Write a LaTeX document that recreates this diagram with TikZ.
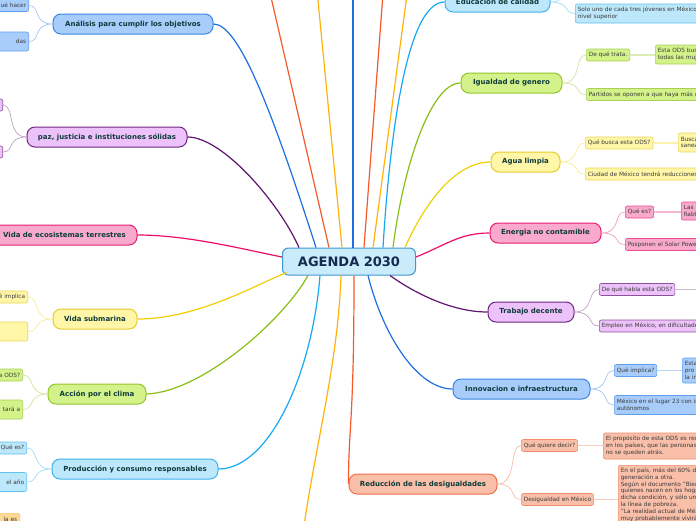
\documentclass[tikz,border=0pt]{standalone}
\usepackage{fontspec}
\setmainfont{DejaVu Sans}
\usetikzlibrary{calc}
\definecolor{HubFill}{HTML}{C9EBFA}
\definecolor{HubEdge}{HTML}{3F97D4}
\definecolor{HubText}{HTML}{142A4E}
\definecolor{TopicText}{HTML}{0E3B3B}
\definecolor{DetailText}{HTML}{3A3A3A}
\definecolor{BlueLine}{HTML}{1F6FE0}
\definecolor{BlueEdge}{HTML}{3A86E8}
\definecolor{BlueFill}{HTML}{A8CDFA}
\definecolor{PurpleLine}{HTML}{5E1470}
\definecolor{PurpleEdge}{HTML}{6E2682}
\definecolor{PurpleFill}{HTML}{EDC2FA}
\definecolor{MagentaLine}{HTML}{EE0D6B}
\definecolor{MagentaEdge}{HTML}{E61E73}
\definecolor{MagentaFill}{HTML}{F9AACC}
\definecolor{YellowLine}{HTML}{F0D000}
\definecolor{YellowEdge}{HTML}{E6CC2E}
\definecolor{YellowFill}{HTML}{FFF6A8}
\definecolor{GreenLine}{HTML}{8BBE14}
\definecolor{GreenEdge}{HTML}{94C42A}
\definecolor{GreenFill}{HTML}{D4F28A}
\definecolor{CyanLine}{HTML}{16A9F2}
\definecolor{CyanEdge}{HTML}{3BB3EE}
\definecolor{CyanFill}{HTML}{BDE7FB}
\definecolor{OrangeLine}{HTML}{F45A2A}
\definecolor{OrangeEdge}{HTML}{F0704A}
\definecolor{OrangeFill}{HTML}{F9BFA9}
\definecolor{AmberLine}{HTML}{FFB20A}
\definecolor{AmberEdge}{HTML}{F2BA45}
\definecolor{AmberFill}{HTML}{FDD995}
\tikzset{
  hub/.style={draw=HubEdge,fill=HubFill,line width=1pt,rounded corners=6pt,
    minimum width=133pt,minimum height=27pt,
    font=\fontsize{13}{15}\selectfont\bfseries,text=HubText},
  topic/.style={draw=#1Edge,fill=#1Fill,line width=1pt,rounded corners=8pt,
    minimum height=20pt,inner sep=2pt,
    font=\fontsize{7}{8}\selectfont\bfseries,text=TopicText},
  detail/.style={draw=#1Edge!80,fill=#1Fill,line width=0.6pt,rounded corners=2pt,
    minimum height=12pt,inner sep=2.5pt,align=left,
    font=\fontsize{5.8}{6.8}\selectfont,text=DetailText},
  cutright/.style={text width=#1,align=left},
  cutleft/.style={text width=#1,align=right},
  branch/.style={line width=1.2pt,draw=#1Line},
  twig/.style={line width=0.6pt,draw=#1Line!45},
  stem/.style={line width=1.2pt,draw=#1Line!30}
}
\begin{document}
\begin{tikzpicture}[x=1pt,y=-1pt]
  \useasboundingbox (0,0) rectangle (696,520);
  \clip (0,0) rectangle (696,520);
  \fill[white] (0,0) rectangle (696,520);

  % centre
  \node[hub] (c) at (349,261.5) {AGENDA 2030};

  % topics, left
  \node[topic=Blue,minimum width=160pt] (ana) at (133,24) {Análisis para cumplir los objetivos};
  \node[topic=Purple,minimum width=160pt] (paz) at (107,137) {paz, justicia e instituciones sólidas};
  \node[topic=Magenta,minimum width=145pt] (ter) at (64.5,235) {Vida de ecosistemas terrestres};
  \node[topic=Yellow,minimum width=84pt] (sub) at (95,319) {Vida submarina};
  \node[topic=Green,minimum width=98pt] (cli) at (97,394) {Acción por el clima};
  \node[topic=Cyan,minimum width=166pt] (pro) at (135,469) {Producción y consumo responsables};

  % topics, right
  \node[topic=Cyan,minimum width=105pt] (edu) at (497.5,2) {Educación de calidad};
  \node[topic=Green,minimum width=101pt] (igu) at (511.5,83) {Igualdad de genero};
  \node[topic=Yellow,minimum width=69pt] (agu) at (525.5,162) {Agua limpia};
  \node[topic=Magenta,minimum width=111pt] (ene) at (545.5,233) {Energia no contamible};
  \node[topic=Purple,minimum width=86pt] (tra) at (531,312) {Trabajo decente};
  \node[topic=Blue,minimum width=137pt] (inn) at (521.5,389) {Innovacion e infraestructura};
  \node[topic=Orange,minimum width=148pt] (red) at (423,484) {Reducción de las desigualdades};

  % details, left
  \node[detail=Blue,cutleft=60pt,anchor=east] (ana1) at (29,5.5) {qué hacer};
  \node[detail=Blue,cutleft=60pt,anchor=east,minimum height=19pt] (ana2) at (29,41.5) {das};
  \node[detail=Purple,anchor=east,minimum width=30pt] (paz1) at (3,105) {};
  \node[detail=Purple,anchor=east,minimum width=30pt] (paz2) at (3,152) {};
  \node[detail=Yellow,cutleft=60pt,anchor=east] (sub1) at (28,297) {é implica};
  \node[detail=Yellow,cutleft=60pt,anchor=east,minimum height=19pt] (sub2) at (28,331.5) {};
  \node[detail=Green,cutleft=60pt,anchor=east] (cli1) at (23,375) {a ODS?};
  \node[detail=Green,cutleft=60pt,anchor=east,minimum height=19pt] (cli2) at (23,409.5) {tará a};
  \node[detail=Cyan,cutleft=60pt,anchor=east] (pro1) at (27,448) {Qué es?};
  \node[detail=Cyan,cutleft=60pt,anchor=east,minimum height=19pt] (pro2) at (27,482) {el año};
  \node[detail=Amber,cutleft=50pt,anchor=north east] (amb1) at (20,513) {la es};

  % details, right
  \node[detail=Cyan,cutright=160pt,anchor=west,minimum height=19pt] (edu1) at (575,13.5)
    {Solo uno de cada tres jóvenes en México s\\nivel superior};
  \node[detail=Green,anchor=west] (igu1) at (586,55) {De qué trata.};
  \node[detail=Green,cutright=80pt,anchor=west,minimum height=19pt] (igu1a) at (655,54.5)
    {Esta ODS bus\\todas las muj};
  \node[detail=Green,cutright=160pt,anchor=west] (igu2) at (586,94.5) {Partidos se oponen a que haya más ca};
  \node[detail=Yellow,anchor=west] (agu1) at (585,143) {Qué busca esta ODS?};
  \node[detail=Yellow,cutright=60pt,anchor=west,minimum height=19pt] (agu1a) at (678,142.5) {Busca\\sanea};
  \node[detail=Yellow,cutright=160pt,anchor=west] (agu2) at (585,174) {Ciudad de México tendrá reducciones d};
  \node[detail=Magenta,anchor=west] (ene1) at (625,212) {Qué es?};
  \node[detail=Magenta,cutright=60pt,anchor=west,minimum height=18pt] (ene1a) at (681,211) {Las\\fiabl};
  \node[detail=Magenta,cutright=120pt,anchor=west] (ene2) at (625,244.5) {Posponen el Solar Powe};
  \node[detail=Purple,anchor=west] (tra1) at (599,289.5) {De qué habla esta ODS?};
  \node[detail=Purple,cutright=140pt,anchor=west] (tra2) at (599,326) {Empleo en México, en dificultades};
  \node[detail=Blue,anchor=west] (inn1) at (614,370.5) {Qué implica?};
  \node[detail=Blue,cutright=60pt,anchor=west,minimum height=25pt] (inn1a) at (682,370.5) {Esta\\pro\\la in};
  \node[detail=Blue,cutright=140pt,anchor=west,minimum height=19pt] (inn2) at (614,405)
    {México en el lugar 23 con in\\autónomos};
  \node[detail=Orange,anchor=west] (red1) at (521,445.5) {Qué quiere decir?};
  \node[detail=Orange,cutright=140pt,anchor=west,minimum height=26pt] (red1a) at (603,446)
    {El propósito de esta ODS es  red\\en los países, que las personas s\\no se queden atrás.};
  \node[detail=Orange,anchor=west] (red2) at (521,499.5) {Desigualdad en México};
  \node[detail=Orange,cutright=140pt,anchor=north west] (red2a) at (618,465)
    {En el país, más del 60\% de\\generación a otra.\\Según el documento "Biene\\
     quienes nacen en los hoga\\dicha condición, y sólo una\\la línea de pobreza.\\
     "La realidad actual de Méxi\\muy probablemente vivirá};

  % ends outside the frame
  \coordinate (o1) at (267,-20);
  \coordinate (a1) at (316,-20);
  \coordinate (b1) at (353,-20);
  \coordinate (o2) at (384,-20);
  \coordinate (a2) at (409,-20);
  \coordinate (a3) at (302,540);
  \coordinate (edu0) at (575,-20);
  \coordinate (tra1a) at (720,289.5);

  % branches from the centre
  \draw[branch=Blue] ($(c.north)+(-33,0)$) .. controls +(-45,-140) and +(25,0) .. (ana.east);
  \draw[branch=Purple] ($(c.north)+(-50,0)$) .. controls +(-20,-45) and +(35,0) .. (paz.east);
  \draw[branch=Magenta] ($(c.west)+(0,-4.5)$) .. controls +(-40,-8) and +(50,0) .. (ter.east);
  \draw[branch=Yellow] ($(c.south west)+(4.5,-3)$) .. controls +(-30,12) and +(60,0) .. (sub.east);
  \draw[branch=Green] ($(c.south)+(-41,0)$) .. controls +(-25,45) and +(55,-2) .. (cli.east);
  \draw[branch=Cyan] ($(c.south)+(-29,0)$) .. controls +(-8,100) and +(50,0) .. (pro.east);
  \draw[branch=Amber] ($(c.south)+(-8,0)$) .. controls +(-3,90) and +(12,-90) .. (a3);
  \draw[branch=Orange] ($(c.south)+(5,0)$) .. controls +(0,150) and +(0,-60) .. (red.west);
  \draw[branch=Blue] ($(c.south)+(19,0)$) .. controls +(15,60) and +(-35,0) .. (inn.west);
  \draw[branch=Purple] ($(c.south)+(41,0)$) .. controls +(25,18) and +(-35,0) .. (tra.west);
  \draw[branch=Magenta] ($(c.east)+(0,-4.5)$) .. controls +(30,-12) and +(-30,0) .. (ene.west);
  \draw[branch=Yellow] ($(c.north)+(56,0)$) .. controls +(20,-45) and +(-35,0) .. (agu.west);
  \draw[branch=Green] ($(c.north)+(44,0)$) .. controls +(10,-80) and +(-30,0) .. (igu.west);
  \draw[branch=Cyan] ($(c.north)+(34,0)$) .. controls +(8,-130) and +(-35,0) .. (edu.west);
  \draw[branch=Orange] ($(c.north)+(-20,0)$) -- (o1);
  \draw[branch=Amber] ($(c.north)+(-7,0)$) -- (a1);
  \draw[branch=Blue] ($(c.north)+(4,0)$) -- (b1);
  \draw[branch=Orange] ($(c.north)+(15,0)$) -- (o2);
  \draw[branch=Amber] ($(c.north)+(24,0)$) -- (a2);

  % twigs, left
  \draw[twig=Blue] (ana.west) .. controls +(-20,0) and +(12,0) .. (ana1.east);
  \draw[twig=Blue] (ana.west) .. controls +(-20,0) and +(12,0) .. (ana2.east);
  \draw[twig=Purple] (paz.west) .. controls +(-20,0) and +(12,0) .. (paz1.east);
  \draw[twig=Purple] (paz.west) .. controls +(-20,0) and +(12,0) .. (paz2.east);
  \draw[twig=Yellow] (sub.west) .. controls +(-20,0) and +(12,0) .. (sub1.east);
  \draw[twig=Yellow] (sub.west) .. controls +(-20,0) and +(12,0) .. (sub2.east);
  \draw[twig=Green] (cli.west) .. controls +(-20,0) and +(12,0) .. (cli1.east);
  \draw[twig=Green] (cli.west) .. controls +(-20,0) and +(12,0) .. (cli2.east);
  \draw[twig=Cyan] (pro.west) .. controls +(-20,0) and +(12,0) .. (pro1.east);
  \draw[twig=Cyan] (pro.west) .. controls +(-20,0) and +(12,0) .. (pro2.east);

  % twigs, right
  \draw[twig=Cyan] (edu.east) .. controls +(20,0) and +(-12,0) .. (edu0);
  \draw[twig=Cyan] (edu.east) .. controls +(20,0) and +(-12,0) .. (edu1.west);
  \draw[twig=Green] (igu.east) .. controls +(20,0) and +(-12,0) .. (igu1.west);
  \draw[twig=Green] (igu.east) .. controls +(20,0) and +(-12,0) .. (igu2.west);
  \draw[twig=Yellow] (agu.east) .. controls +(20,0) and +(-12,0) .. (agu1.west);
  \draw[twig=Yellow] (agu.east) .. controls +(20,0) and +(-12,0) .. (agu2.west);
  \draw[twig=Magenta] (ene.east) .. controls +(20,0) and +(-12,0) .. (ene1.west);
  \draw[twig=Magenta] (ene.east) .. controls +(20,0) and +(-12,0) .. (ene2.west);
  \draw[twig=Purple] (tra.east) .. controls +(20,0) and +(-12,0) .. (tra1.west);
  \draw[twig=Purple] (tra.east) .. controls +(20,0) and +(-12,0) .. (tra2.west);
  \draw[twig=Blue] (inn.east) .. controls +(20,0) and +(-12,0) .. (inn1.west);
  \draw[twig=Blue] (inn.east) .. controls +(20,0) and +(-12,0) .. (inn2.west);
  \draw[twig=Orange] (red.east) .. controls +(20,0) and +(-12,0) .. (red1.west);
  \draw[twig=Orange] (red.east) .. controls +(20,0) and +(-12,0) .. (red2.west);

  % stems to third level
  \draw[stem=Green] (igu1.east) -- (igu1.east -| igu1a.west);
  \draw[stem=Yellow] (agu1.east) -- (agu1.east -| agu1a.west);
  \draw[stem=Magenta] (ene1.east) -- (ene1.east -| ene1a.west);
  \draw[stem=Purple] (tra1.east) -- (tra1a);
  \draw[stem=Blue] (inn1.east) -- (inn1.east -| inn1a.west);
  \draw[stem=Orange] (red1.east) -- (red1.east -| red1a.west);
  \draw[stem=Orange] (red2.east) -- (red2.east -| red2a.west);
\end{tikzpicture}
\end{document}
